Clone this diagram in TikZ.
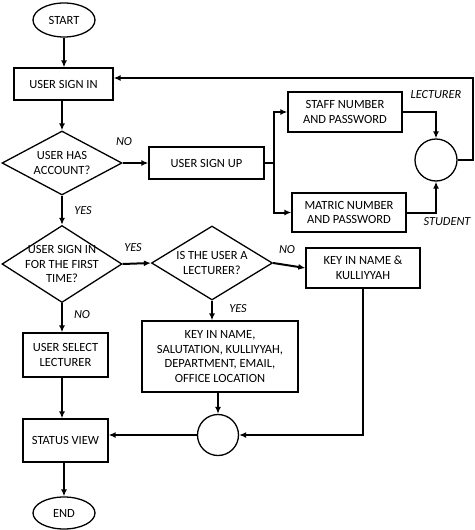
\documentclass[tikz,border=0pt]{standalone}
\usepackage{fontspec}
\setmainfont{Carlito}
\usetikzlibrary{shapes.geometric,arrows.meta}

\begin{document}
\begin{tikzpicture}[x=1pt,y=-1pt]
\tikzstyle{every node}=[font=\fontsize{12.5pt}{14.8pt}\selectfont]
\tikzstyle{terminal}=[draw, line width=1.3pt, ellipse, inner sep=0pt, minimum width=62pt, minimum height=34pt]
\tikzstyle{process}=[draw, line width=1.3pt, rectangle, align=center, inner sep=0pt]
\tikzstyle{decision}=[draw, line width=1.3pt, diamond, align=center, inner sep=-12pt]
\tikzstyle{joint}=[draw, line width=1.3pt, circle, inner sep=0pt, minimum size=42pt]
\tikzstyle{flow}=[line width=2pt, -{Latex[length=7pt,width=6pt]}]
\tikzstyle{mainflow}=[line width=2.8pt, -{Latex[length=7pt,width=6pt]}]
\tikzstyle{answer}=[font=\fontsize{12.3pt}{14pt}\selectfont\itshape]
\useasboundingbox (0,0) rectangle (474,530);
% left column
\node [terminal] (start) at (64,20) {START};
\node [process, minimum width=99pt, minimum height=32pt] (signin) at (63.5,84) {USER SIGN IN};
\node [decision, minimum width=120pt, minimum height=64pt] (hasacc) at (62,163) {USER HAS\\ACCOUNT?};
\node [decision, minimum width=120pt, minimum height=77pt] (firsttime) at (62,264) {USER SIGN IN\\FOR THE FIRST\\TIME?};
\node [process, minimum width=85pt, minimum height=44pt] (select) at (65.5,355) {USER SELECT\\LECTURER};
\node [process, minimum width=85pt, minimum height=43pt] (status) at (65.5,440.5) {STATUS VIEW};
\node [terminal, minimum height=32pt] (end) at (64,513) {END};
% sign up branch
\node [process, minimum width=115pt, minimum height=32pt] (signup) at (206.5,163) {USER SIGN UP};
\node [process, minimum width=114pt, minimum height=40pt] (staff) at (345,112) {STAFF NUMBER\\AND PASSWORD};
\node [process, minimum width=114pt, minimum height=39pt] (matric) at (349,212.5) {MATRIC NUMBER\\AND PASSWORD};
\node [joint] (jointop) at (436,160) {};
\coordinate (fork) at (274,163);
\coordinate (loop) at (473,78);
% first time branch
\node [decision, minimum width=121pt, minimum height=74pt] (islect) at (212,263) {IS THE USER A\\LECTURER?};
\node [process, minimum width=114pt, minimum height=40pt] (keyname) at (363,268) {KEY IN NAME \&\\KULLIYYAH};
\node [process, minimum width=156pt, minimum height=71pt] (keyfull) at (220,356.5) {KEY IN NAME,\\SALUTATION, KULLIYYAH,\\DEPARTMENT, EMAIL,\\OFFICE LOCATION};
\node [joint, minimum size=41pt] (joinbot) at (218,435) {};
% labels
\node [answer] (no1) at (124,142) {NO};
\node [answer] (yes1) at (83,211) {YES};
\node [answer] (yes2) at (133,248) {YES};
\node [answer] (no2) at (82,315) {NO};
\node [answer] (no3) at (287,250) {NO};
\node [answer] (yes3) at (238,309) {YES};
\node [answer] (lect) at (436,95) {LECTURER};
\node [answer] (stud) at (447,222) {STUDENT};
% connectors
\draw [flow] (start) -- (start |- signin.north);
\draw [mainflow] (signin.south -| hasacc.north) -- (hasacc.north);
\draw [flow] (hasacc.east) -- (signup.west);
\draw [mainflow] (hasacc.south) -- (firsttime.north);
\draw [flow, -] (signup.east) -- (fork);
\draw [flow] (fork) |- (staff.west);
\draw [flow] (fork) |- (matric.west);
\draw [flow] (staff.east) -| (jointop.north);
\draw [flow] (matric.east) -| (jointop.south);
\draw [flow] (jointop.east) -| (loop) -- (loop -| signin.east);
\draw [flow] (firsttime.east) -- (islect.west);
\draw [mainflow] (firsttime.south) -- (firsttime.south |- select.north);
\draw [flow] (islect.east) -- (keyname.west);
\draw [flow] (islect.south) -- (islect.south |- keyfull.north);
\draw [flow] (keyfull.south -| joinbot.north) -- (joinbot.north);
\draw [flow] (keyname.south) |- (joinbot.east);
\draw [mainflow] (select.south -| firsttime.south) -- (firsttime.south |- status.north);
\draw [flow] (joinbot.west) -- (joinbot.west -| status.east);
\draw [flow] (status.south -| end.north) -- (end.north);
\end{tikzpicture}
\end{document}
